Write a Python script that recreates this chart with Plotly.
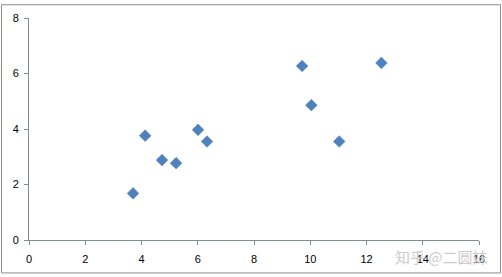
import plotly.graph_objects as go

x_vals = [3.70, 4.13, 4.73, 5.23, 6.01, 6.33, 9.71, 10.04, 11.03, 12.53]
y_vals = [1.68, 3.76, 2.88, 2.77, 3.97, 3.55, 6.27, 4.86, 3.55, 6.38]
x_ticks = [0, 2, 4, 6, 8, 10, 12, 14, 16]
y_ticks = [0, 2, 4, 6, 8]

W, H = 502, 277
ml, mr, mt, mb = 29, 23, 15, 36
pw, ph = W - ml - mr, H - mt - mb

def px2paper_x(p):
    return (p - ml) / pw

def px2paper_y(p):
    return (H - mb - p) / ph

fig = go.Figure()
fig.add_trace(go.Scatter(
    x=x_vals, y=y_vals, mode="markers",
    marker=dict(symbol="diamond", size=9, color="#4F81BD",
                line=dict(width=0.5, color="#4A7EBB")),
    showlegend=False,
))

axis_color = "#7F8C96"
fig.update_xaxes(range=[0, 16], tickvals=x_ticks, showgrid=False, zeroline=False,
                 showline=True, linecolor=axis_color, linewidth=1,
                 ticks="outside", ticklen=4, tickcolor=axis_color,
                 ticklabelstandoff=5,
                 tickfont=dict(family="Liberation Sans", size=11, color="#000"))
fig.update_yaxes(range=[0, 8], tickvals=y_ticks, showgrid=False, zeroline=False,
                 showline=True, linecolor=axis_color, linewidth=1,
                 ticks="outside", ticklen=4, tickcolor=axis_color,
                 ticklabelstandoff=3,
                 tickfont=dict(family="Liberation Sans", size=11, color="#000"))

fig.add_shape(type="rect", xref="paper", yref="paper",
              x0=px2paper_x(1.5), x1=px2paper_x(500.5),
              y0=px2paper_y(274.5), y1=px2paper_y(1.5),
              line=dict(color="#8C8C8C", width=1), layer="below")

fig.add_annotation(text="知乎 @二圆妹", xref="paper", yref="paper",
                   x=px2paper_x(441), y=px2paper_y(258), showarrow=False,
                   font=dict(family="Noto Sans CJK SC", size=15, color="#CCCCCC"),
                   xanchor="center", yanchor="middle")

fig.update_layout(width=W, height=H, margin=dict(l=ml, r=mr, t=mt, b=mb),
                  plot_bgcolor="white", paper_bgcolor="white")

fig.write_html("out.html")
